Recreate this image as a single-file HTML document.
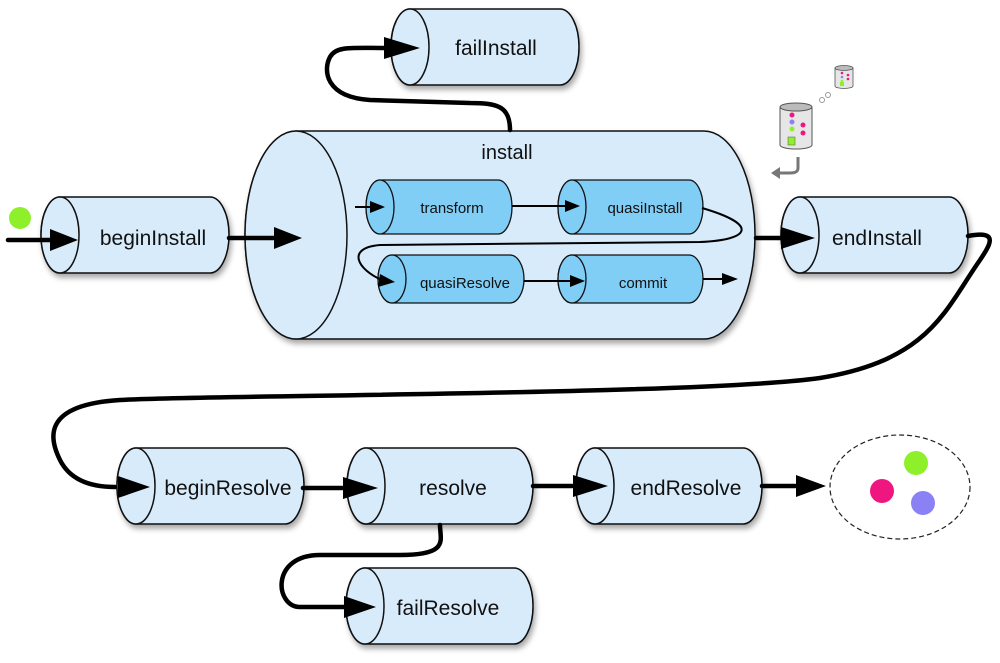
<!DOCTYPE html>
<html><head><meta charset="utf-8"><style>
html,body{margin:0;padding:0;background:#fff;}
svg{display:block;}
text{font-family:"Liberation Sans",sans-serif;fill:#111;}
</style></head><body>
<svg width="1000" height="663" viewBox="0 0 1000 663" xmlns="http://www.w3.org/2000/svg">
<defs>
<filter id="sh" x="-10%" y="-10%" width="130%" height="140%"><feGaussianBlur in="SourceAlpha" stdDeviation="3"/><feOffset dx="2" dy="4"/><feComponentTransfer><feFuncA type="linear" slope="0.35"/></feComponentTransfer><feMerge><feMergeNode/><feMergeNode in="SourceGraphic"/></feMerge></filter>
</defs>

<g stroke="#111" stroke-width="1.5" fill="#d8ebfb" filter="url(#sh)">
<path d="M410,9 L560,9 A19,38 0 0 1 560,85 L410,85 A19,38 0 0 1 410,9 Z"/>
<path d="M296,131 L704,131 A51,104 0 0 1 704,339 L296,339 A51,104 0 0 1 296,131 Z"/>
<path d="M60,197 L210,197 A19,38 0 0 1 210,273 L60,273 A19,38 0 0 1 60,197 Z"/>
<path d="M800,197 L949,197 A19,38 0 0 1 949,273 L800,273 A19,38 0 0 1 800,197 Z"/>
<path d="M136,448 L285,448 A19,38 0 0 1 285,524 L136,524 A19,38 0 0 1 136,448 Z"/>
<path d="M366,448 L514,448 A19,38 0 0 1 514,524 L366,524 A19,38 0 0 1 366,448 Z"/>
<path d="M595,448 L743,448 A19,38 0 0 1 743,524 L595,524 A19,38 0 0 1 595,448 Z"/>
<path d="M365,568 L514,568 A19,38 0 0 1 514,644 L365,644 A19,38 0 0 1 365,568 Z"/>
</g>
<g stroke="#111" stroke-width="1.5" fill="#d8ebfb">
<ellipse cx="410" cy="47" rx="19" ry="38"/>
<ellipse cx="296" cy="235" rx="51" ry="104"/>
<ellipse cx="60" cy="235" rx="19" ry="38"/>
<ellipse cx="800" cy="235" rx="19" ry="38"/>
<ellipse cx="136" cy="486" rx="19" ry="38"/>
<ellipse cx="366" cy="486" rx="19" ry="38"/>
<ellipse cx="595" cy="486" rx="19" ry="38"/>
<ellipse cx="365" cy="606" rx="19" ry="38"/>
</g>
<g stroke="#111" stroke-width="1.3" fill="#80cdf5">
<path d="M380,180 L498,180 A14,27 0 0 1 498,234 L380,234 A14,27 0 0 1 380,180 Z"/>
<ellipse cx="380" cy="207" rx="14" ry="27"/>
<path d="M572,180 L689,180 A14,27 0 0 1 689,234 L572,234 A14,27 0 0 1 572,180 Z"/>
<ellipse cx="572" cy="207" rx="14" ry="27"/>
<path d="M392,255 L510,255 A14,24 0 0 1 510,303 L392,303 A14,24 0 0 1 392,255 Z"/>
<ellipse cx="392" cy="279" rx="14" ry="24"/>
<path d="M572,255 L689,255 A14,24 0 0 1 689,303 L572,303 A14,24 0 0 1 572,255 Z"/>
<ellipse cx="572" cy="279" rx="14" ry="24"/>
</g>

<g stroke="#000" stroke-width="4.5" fill="none" stroke-linecap="round">
<path d="M8,240 L50,240"/>
<path d="M229,238 L275,238"/>
<path d="M756,238 L782,238"/>
<path d="M510,130 C510,106 497,103 470,103 L370,100 C325,97 323,70 330,57 C336,46 350,48 385,48"/>
<path d="M968,236 C1000,230 990,245 980,260 C945,310 930,360 820,378 C700,395 200,395 120,400 C40,405 50,440 60,460 C70,480 90,487 115,487"/>
<path d="M303,488 L342,488"/>
<path d="M533,486 L572,486"/>
<path d="M762,486 L795,486"/>
<path d="M440,525 C440,540 450,555 400,555 L320,555 C270,555 275,607 300,607 L345,607"/>
</g>
<g fill="#000">
<polygon points="78,240 50,229 50,251"/>
<polygon points="302,238 274,227 274,249"/>
<polygon points="815,238 781,227 781,249"/>
<polygon points="420,48 384,37 384,59"/>
<polygon points="150,487 118,476 118,498"/>
<polygon points="378,488 343,477 343,499"/>
<polygon points="608,486 573,475 573,497"/>
<polygon points="826,486 796,475 796,497"/>
<polygon points="376,607 344,596 344,618"/>
</g>
<g stroke="#000" stroke-width="2" fill="none">
<path d="M355,207 L372,207"/>
<path d="M512,206 L568,206"/>
<path d="M702,208 C760,225 750,240 700,242 L380,245 C345,248 358,270 382,280"/>
<path d="M524,281 L572,281"/>
<path d="M703,279 L730,279"/>
</g>
<g fill="#000">
<polygon points="385,207 370,201 370,213"/>
<polygon points="580,206 565,200 565,212"/>
<polygon points="395,282 380,274 378,287"/>
<polygon points="585,281 570,275 570,287"/>
<polygon points="738,279 722,273 722,285"/>
</g>

<text x="496" y="55" font-size="21" text-anchor="middle">failInstall</text>
<text x="507" y="159" font-size="20" text-anchor="middle">install</text>
<text x="153" y="245" font-size="21" text-anchor="middle">beginInstall</text>
<text x="877" y="245" font-size="21" text-anchor="middle">endInstall</text>
<text x="452" y="213" font-size="15" text-anchor="middle">transform</text>
<text x="645" y="213" font-size="15" text-anchor="middle">quasiInstall</text>
<text x="465" y="288" font-size="15" text-anchor="middle">quasiResolve</text>
<text x="643" y="288" font-size="15" text-anchor="middle">commit</text>
<text x="228" y="495" font-size="21" text-anchor="middle">beginResolve</text>
<text x="453" y="495" font-size="21" text-anchor="middle">resolve</text>
<text x="686" y="495" font-size="21" text-anchor="middle">endResolve</text>
<text x="448" y="615" font-size="21" text-anchor="middle">failResolve</text>

<circle cx="20" cy="218" r="11" fill="#8ef02a"/>
<ellipse cx="900" cy="487" rx="70" ry="52" fill="#fff" stroke="#222" stroke-width="1.2" stroke-dasharray="5,3"/>
<circle cx="916" cy="463" r="12" fill="#8ef02a"/>
<circle cx="882" cy="491" r="12" fill="#f0167f"/>
<circle cx="923" cy="503" r="12" fill="#8a82f4"/>

<g>
<path d="M780,107 L780,145 A16,4 0 0 0 812,145 L812,107 Z" fill="#e6e6e6" stroke="#555" stroke-width="1"/>
<ellipse cx="796" cy="107" rx="16" ry="4" fill="#bbb" stroke="#555" stroke-width="1"/>
<circle cx="792" cy="115" r="2.5" fill="#f0167f"/><circle cx="792" cy="122" r="2.5" fill="#8a82f4"/><circle cx="792" cy="129" r="2.5" fill="#8ef02a"/>
<circle cx="803" cy="125" r="2.5" fill="#f0167f"/><circle cx="803" cy="133" r="2.5" fill="#f0167f"/>
<rect x="788" y="137" width="7" height="8" fill="#8ef02a" stroke="#555" stroke-width="0.5"/>
<path d="M835,68 L835,86 A9,2.5 0 0 0 853,86 L853,68 Z" fill="#e6e6e6" stroke="#555" stroke-width="0.8"/>
<ellipse cx="844" cy="68" rx="9" ry="2.5" fill="#bbb" stroke="#555" stroke-width="0.8"/>
<circle cx="842" cy="73" r="1.3" fill="#f0167f"/><circle cx="842" cy="77" r="1.3" fill="#8a82f4"/><circle cx="842" cy="81" r="1.3" fill="#8ef02a"/>
<circle cx="848" cy="75" r="1.3" fill="#f0167f"/><circle cx="848" cy="79" r="1.3" fill="#f0167f"/>
<rect x="840" y="82" width="4" height="4" fill="#8ef02a"/>
<circle cx="822" cy="100" r="2.5" fill="none" stroke="#999" stroke-width="1"/><circle cx="828" cy="95" r="2.5" fill="none" stroke="#999" stroke-width="1"/>
<path d="M798,157 L798,168 C798,172 795,173 790,173 L778,173" fill="none" stroke="#777" stroke-width="3"/>
<polygon points="771,173 780,167 780,179" fill="#777"/>
</g>
</svg>
</body></html>
